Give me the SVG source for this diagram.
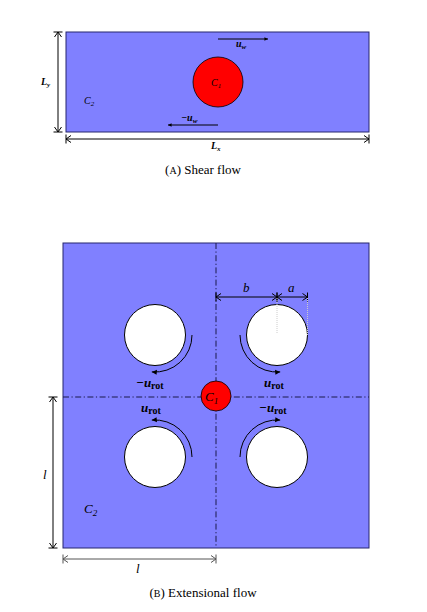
<svg xmlns="http://www.w3.org/2000/svg" width="427" height="612" viewBox="0 0 427 612">
<style>
.dom{fill:#8080ff;stroke:#26266e;stroke-width:1}
.hole{fill:#ffffff;stroke:#000;stroke-width:1}
.red{fill:#ff0000;stroke:#000;stroke-width:0.8}
.dim{stroke:#000;stroke-width:1;fill:none}
.axis{stroke:#1a1a4a;stroke-width:1;fill:none;stroke-dasharray:6 2.5 1.2 2.5}
.rot{stroke:#000;stroke-width:1;fill:none}
text{font-family:"Liberation Serif",serif;fill:#000}
.m{font-style:italic}
.u{font-weight:bold;font-style:italic}
.cap{font-size:13px;text-anchor:middle}
</style>
<defs>
<marker id="bar" viewBox="-7 -6 8 12" refX="0" refY="0" markerWidth="8" markerHeight="12" markerUnits="userSpaceOnUse" orient="auto-start-reverse">
<path d="M-5,-3.5 L0,0 L-5,3.5 M0,-4.5 L0,4.5" stroke="#000" stroke-width="1" fill="none"/>
</marker>
<marker id="barg" viewBox="-7 -6 8 12" refX="0" refY="0" markerWidth="8" markerHeight="12" markerUnits="userSpaceOnUse" orient="auto-start-reverse">
<path d="M-5,-3.5 L0,0 L-5,3.5 M0,-4.5 L0,4.5" stroke="#555" stroke-width="1" fill="none"/>
</marker>
<marker id="tip" viewBox="-6 -4 7 8" refX="0" refY="0" markerWidth="7" markerHeight="8" markerUnits="userSpaceOnUse" orient="auto">
<path d="M-5,-2.5 L0,0 L-5,2.5 Z" fill="#000"/>
</marker>
<marker id="tips" viewBox="-6 -4 7 8" refX="0" refY="0" markerWidth="5" markerHeight="6" markerUnits="userSpaceOnUse" orient="auto">
<path d="M-5,-2.5 L0,0 L-5,2.5 Z" fill="#000"/>
</marker>
</defs>

<!-- (A) Shear flow -->
<g id="shear-domain">
<rect class="dom" x="66" y="32" width="303" height="100"/>
<text class="m" x="84" y="104" font-size="10">C<tspan font-size="7" dy="2">2</tspan></text>
</g>
<g id="shear-droplet">
<circle class="red" cx="218" cy="82" r="25"/>
<text class="m" x="211" y="86" font-size="10">C<tspan font-size="7" dy="2">1</tspan></text>
</g>
<g id="shear-connectors">
<line class="dim" x1="58" y1="32" x2="58" y2="132" marker-start="url(#bar)" marker-end="url(#bar)"/>
<line class="dim" x1="66" y1="139" x2="369" y2="139" marker-start="url(#bar)" marker-end="url(#bar)"/>
<line x1="218" y1="39" x2="268" y2="39" stroke="#000" stroke-width="1" marker-end="url(#tips)"/>
<line x1="218" y1="125" x2="168" y2="125" stroke="#000" stroke-width="1" marker-end="url(#tips)"/>
</g>
<g id="shear-labels">
<text class="m" x="41" y="85" font-size="10" font-weight="bold">L<tspan font-size="7" dy="2">y</tspan></text>
<text class="m" x="211" y="149" font-size="10" font-weight="bold">L<tspan font-size="7" dy="2">x</tspan></text>
<text class="u" x="236" y="47" font-size="10">u<tspan font-size="7" dy="2">w</tspan></text>
<text class="u" x="181" y="121" font-size="10">−u<tspan font-size="7" dy="2">w</tspan></text>
<text class="cap" x="203" y="174">(<tspan font-size="10">A</tspan>) Shear flow</text>
</g>

<!-- (B) Extensional flow -->
<g id="ext-domain">
<rect class="dom" x="63" y="243" width="306" height="305"/>
<text class="m" x="84" y="513" font-size="13">C<tspan font-size="9" dy="3">2</tspan></text>
</g>
<g id="ext-axes">
<line class="axis" x1="216" y1="243" x2="216" y2="548"/>
<line class="axis" x1="63" y1="397" x2="369" y2="397"/>
</g>
<g id="cyl-tl"><circle class="hole" cx="155" cy="335" r="30.5"/></g>
<g id="cyl-tr"><circle class="hole" cx="277" cy="335" r="30.5"/></g>
<g id="cyl-bl"><circle class="hole" cx="155" cy="457" r="30.5"/></g>
<g id="cyl-br"><circle class="hole" cx="277" cy="457" r="30.5"/></g>
<g id="ext-droplet">
<circle class="red" cx="216" cy="396" r="15"/>
<text class="m" x="205" y="401" font-size="13">C<tspan font-size="9" dy="3">1</tspan></text>
</g>
<g id="ext-connectors">
<path class="rot" d="M192,335 A37,37 0 0 1 151.8,371.9" marker-end="url(#tip)"/>
<path class="rot" d="M240,335 A37,37 0 0 0 280.2,371.9" marker-end="url(#tip)"/>
<path class="rot" d="M192,457 A37,37 0 0 0 151.8,420.1" marker-end="url(#tip)"/>
<path class="rot" d="M240,457 A37,37 0 0 1 280.2,420.1" marker-end="url(#tip)"/>
<line class="dim" x1="216" y1="297" x2="277" y2="297" marker-start="url(#bar)" marker-end="url(#bar)"/>
<line class="dim" x1="277" y1="297" x2="307.5" y2="297" marker-start="url(#bar)" marker-end="url(#bar)"/>
<line x1="277" y1="298" x2="277" y2="334" stroke="#ccc" stroke-width="1" stroke-dasharray="1 1"/>
<line x1="307.5" y1="298" x2="307.5" y2="335" stroke="#ccc" stroke-width="1" stroke-dasharray="1 1"/>
<line class="dim" x1="53" y1="397" x2="53" y2="548" marker-start="url(#bar)" marker-end="url(#bar)"/>
<line x1="63" y1="559" x2="216" y2="559" stroke="#555" stroke-width="1" marker-start="url(#barg)" marker-end="url(#barg)"/>
</g>
<g id="ext-labels">
<text class="m" x="243" y="292" font-size="13">b</text>
<text class="m" x="288" y="292" font-size="13">a</text>
<text class="u" x="136" y="387" font-size="13">−u<tspan font-size="10" font-style="normal" dy="2">rot</tspan></text>
<text class="u" x="264" y="387" font-size="13">u<tspan font-size="10" font-style="normal" dy="2">rot</tspan></text>
<text class="u" x="141" y="412" font-size="13">u<tspan font-size="10" font-style="normal" dy="2">rot</tspan></text>
<text class="u" x="259" y="412" font-size="13">−u<tspan font-size="10" font-style="normal" dy="2">rot</tspan></text>
<text class="m" x="43" y="479" font-size="13">l</text>
<text class="m" x="136" y="573" font-size="13">l</text>
<text class="cap" x="203" y="597">(<tspan font-size="10">B</tspan>) Extensional flow</text>
</g>
</svg>
